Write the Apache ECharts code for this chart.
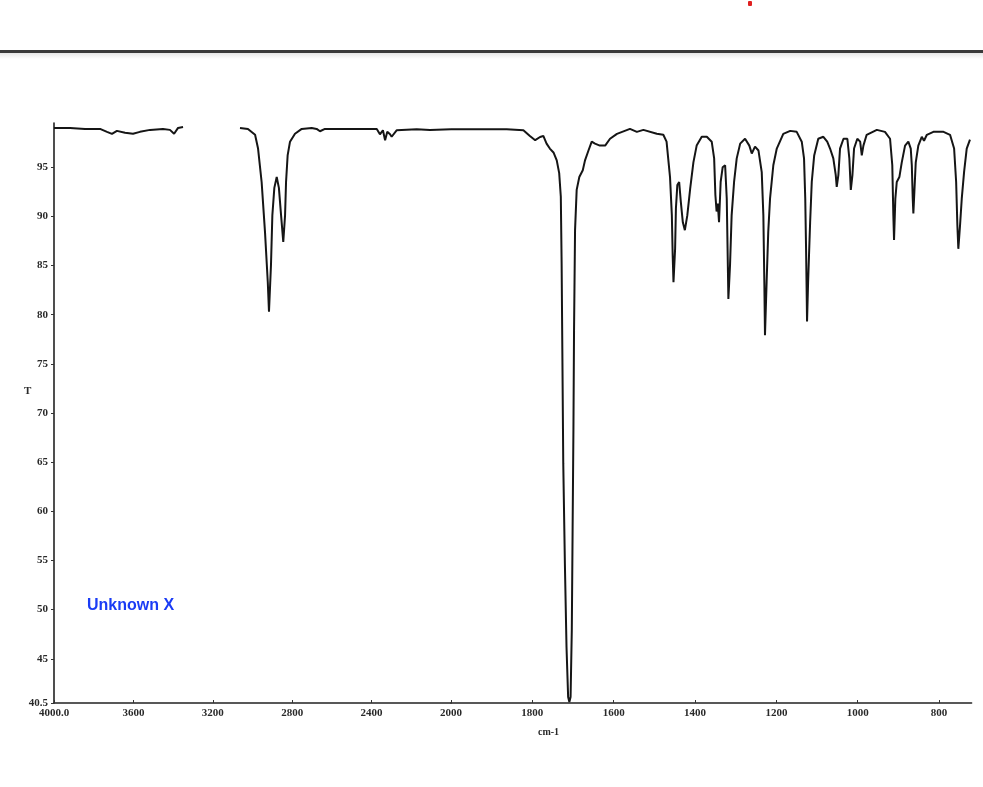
<!DOCTYPE html>
<html>
<head>
<meta charset="utf-8">
<script src="https://cdn.jsdelivr.net/npm/echarts@6/dist/echarts.min.js"></script>
<style>
html,body{margin:0;padding:0;background:#ffffff;}
#chart{width:983px;height:787px;}
</style>
</head>
<body>
<div id="chart"></div>
<script>
// Wavenumbers (cm-1), descending; null transmittance marks the gap in the trace
var wavenumbers = [
  4000,3919,3844,3768,3733,3708,3683,3642,3602,3567,3516,3451,3416,3395,3375,3350,
  3200,
  3063,3023,2987,2972,2954,2937,2923,2917,2907,2900,2890,2878,2867,2856,2845,2836,2831,2823,2811,2786,2752,2702,
  2677,2660,2635,2509,2374,2358,2349,2343,2332,2321,2307,2299,2274,2173,2106,2000,
  1921,1863,1822,1806,1793,1781,1773,1765,1757,1748,1740,1734,1730,1728,1726,1724,1720,1716,1712,1709,
  1706,1703,1701,1699,1697.5,1695,1691,1684.5,1676,1670.5,1662,1654,1646,1634,1621,1609,1592,1560,1543,1527,
  1494,1478,1470,1466,1461.5,1457,1455,1453,1449,1447,1443.5,1439,1435,1430,1425,1419,1412,1404,1396,1383.5,
  1371,1359,1353,1350,1347,1344,1341,1337,1332,1326,1322,1320,1318,1314,1310,1304,1297.5,1289,1277,1266.5,
  1260.5,1252.5,1244,1236,1232,1229.6,1228,1224,1220,1215.6,1207.5,1199,1183,1166,1150,1137.6,1132,1129,1127,
  1125.3,1124.6,1122,1119.7,1117,1113,1107,1097,1084.5,1075,1068,1060,1054,1051.6,1047.6,1043.5,1035,1025.5,
  1020.6,1017,1013,1009,1001,994,990,986,978,953,933,920.5,915,912.4,910.7,907.5,904,897.6,891.7,883.6,875.5,
  869.6,867,864.7,863.2,860.7,857.3,851,842.5,837,830,814,789,773,763,758,755,752.6,748.4,744.2,738.5,732,724
];
var transmittance = [
  99.0,99.0,98.9,98.9,98.6,98.4,98.7,98.5,98.4,98.6,98.8,98.9,98.8,98.4,99.0,99.1,
  null,
  99.0,98.9,98.3,96.9,93.5,88.4,83.3,80.3,85.0,90.1,92.9,94.0,92.9,90.1,87.4,90.1,93.5,96.2,97.6,98.4,98.9,99.0,
  98.9,98.66,98.9,98.9,98.9,98.35,98.25,98.76,97.75,98.6,98.35,98.1,98.76,98.86,98.8,98.86,
  98.86,98.86,98.76,98.18,97.75,98.08,98.18,97.4,96.9,96.5,95.7,94.4,92.0,85.2,75.1,64.9,54.7,46.2,41.1,40.6,
  41.1,47.9,58.1,68.3,78.4,88.6,92.7,94.0,94.7,95.7,96.7,97.6,97.4,97.2,97.2,97.9,98.4,98.9,98.6,98.8,
  98.4,98.3,97.6,95.9,94.0,90.1,86.1,83.3,86.7,90.8,93.2,93.5,91.5,89.4,88.6,90.1,92.8,95.5,97.2,98.1,
  98.1,97.6,95.9,92.2,90.5,91.3,89.4,93.5,95.0,95.2,91.8,86.7,81.6,85.0,90.1,93.5,95.9,97.4,97.9,97.2,
  96.4,97.1,96.7,94.5,90.1,83.3,77.9,83.3,88.4,91.8,95.2,96.9,98.4,98.7,98.6,97.6,95.9,91.8,86.7,
  81.6,79.3,83.3,86.1,89.4,93.5,96.2,97.9,98.1,97.6,96.9,95.9,94.2,93.0,94.2,96.9,97.9,97.9,
  95.9,92.7,94.2,96.9,97.9,97.6,96.2,97.2,98.3,98.8,98.6,97.9,95.2,90.1,87.6,91.8,93.5,94.0,95.5,97.2,97.6,
  96.9,95.2,91.8,90.3,92.5,95.5,97.2,98.1,97.7,98.3,98.6,98.6,98.3,96.9,93.5,89.1,86.7,89.1,91.8,94.5,96.9,97.8
];
var xTicksHigh = [4000, 3600, 3200, 2800, 2400, 2000];
var xTicksLow = [1800, 1600, 1400, 1200, 1000, 800];
var yTicks = [40.5, 45, 50, 55, 60, 65, 70, 75, 80, 85, 90, 95];
var yMin = 40.5, yMax = 99.5;
var breakWavenumber = 2000;

var highPart = [], lowPart = [];
for (var i = 0; i < wavenumbers.length; i++) {
  var w = wavenumbers[i];
  var t = transmittance[i] === null ? '-' : transmittance[i];
  if (w >= breakWavenumber) highPart.push([w, t]);
  if (w <= breakWavenumber) lowPart.push([w, t]);
}

var labelFont = {fontFamily: 'Liberation Serif', fontSize: 11, fontWeight: 'bold', color: '#2a2a2a'};
var axisLine = {show: true, lineStyle: {color: '#222', width: 1.6}};
var lineStyle = {color: '#151515', width: 2};
var plain = function (v) { return v === 4000 ? '4000.0' : String(v); };

var chart = echarts.init(document.getElementById('chart'), null, {renderer: 'canvas'});
chart.setOption({
  backgroundColor: '#ffffff',
  animation: false,
  grid: [
    {left: 54, top: 123, width: 397, height: 580},
    {left: 451, top: 123, width: 520.6, height: 580}
  ],
  xAxis: [
    {
      gridIndex: 0, type: 'value', inverse: true, min: 2000, max: 4000,
      axisLine: axisLine, splitLine: {show: false},
      axisTick: {show: true, inside: true, length: 3, customValues: xTicksHigh, lineStyle: {color: '#333'}},
      axisLabel: Object.assign({margin: 5, customValues: xTicksHigh, formatter: plain}, labelFont)
    },
    {
      gridIndex: 1, type: 'value', inverse: true, min: 720, max: 2000,
      axisLine: axisLine, splitLine: {show: false},
      axisTick: {show: true, inside: true, length: 3, customValues: xTicksLow, lineStyle: {color: '#333'}},
      axisLabel: Object.assign({margin: 5, customValues: xTicksLow, formatter: plain}, labelFont)
    }
  ],
  yAxis: [
    {
      gridIndex: 0, type: 'value', min: yMin, max: yMax,
      axisLine: axisLine, splitLine: {show: false},
      axisTick: {show: true, length: 3, customValues: yTicks, lineStyle: {color: '#333'}},
      axisLabel: Object.assign({margin: 6, customValues: yTicks, formatter: plain}, labelFont)
    },
    {
      gridIndex: 1, type: 'value', min: yMin, max: yMax, show: false
    }
  ],
  series: [
    {type: 'line', xAxisIndex: 0, yAxisIndex: 0, data: highPart, showSymbol: false, connectNulls: false, lineStyle: lineStyle, silent: true},
    {type: 'line', xAxisIndex: 1, yAxisIndex: 1, data: lowPart, showSymbol: false, connectNulls: false, lineStyle: lineStyle, silent: true}
  ],
  graphic: [
    {type: 'rect', left: 0, top: 50, shape: {width: 983, height: 3}, style: {fill: '#3a3a3a'}, silent: true},
    {type: 'rect', left: 0, top: 53, shape: {width: 983, height: 6},
      style: {fill: new echarts.graphic.LinearGradient(0, 0, 0, 1, [{offset: 0, color: '#e6e6e6'}, {offset: 1, color: '#ffffff'}])}, silent: true},
    {type: 'rect', left: 748, top: 1, shape: {width: 4, height: 5, r: 1}, style: {fill: '#e02020'}, silent: true},
    {type: 'text', left: 24, top: 386, style: {text: 'T', font: 'bold 11px "Liberation Serif"', fill: '#2a2a2a'}},
    {type: 'text', left: 538, top: 727, style: {text: 'cm-1', font: 'bold 10px "Liberation Serif"', fill: '#2a2a2a'}},
    {type: 'text', left: 87, top: 598, style: {text: 'Unknown X', font: 'bold 16px "Liberation Sans"', fill: '#1a3cf5'}}
  ]
});
</script>
</body>
</html>
